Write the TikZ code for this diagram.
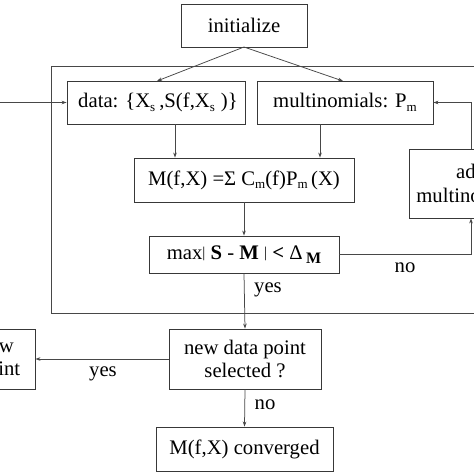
\documentclass[tikz,border=0pt]{standalone}
\usepackage{fontspec}
\setmainfont{Liberation Serif}
\usetikzlibrary{arrows.meta}
\newcommand{\mysub}[1]{\raisebox{-0.4ex}{\fontsize{13}{13}\selectfont #1}}
\newcommand{\bigsub}[1]{\raisebox{-0.45ex}{\fontsize{16}{16}\selectfont #1}}
\begin{document}
\begin{tikzpicture}[x=1pt,y=-1pt,
  box/.style={draw=black!78,line width=0.9pt,rectangle,inner sep=0pt,align=center,
    font=\fontsize{20.7}{23.5}\selectfont},
  conn/.style={draw=black!72,line width=0.75pt,-{Stealth[length=5pt,width=3.6pt]}},
  lbl/.style={font=\fontsize{20.7}{23.5}\selectfont,inner sep=0pt}]
\useasboundingbox (0,0) rectangle (474,474);
\clip (0,0) rectangle (474,474);
\fill[white] (0,0) rectangle (474,474);
% frame
\draw[draw=black!72,line width=0.8pt] (51,66) rectangle (490,313);
% nodes
\node[box,minimum width=126pt,minimum height=43pt] (init) at (244,25.5) {initialize};
\node[box,minimum width=178pt,minimum height=43pt] (data) at (156,102.5) {\hspace{4pt}data: \{X\mysub{s}\hspace{4pt},S(f,X\mysub{s}\hspace{6pt})\}};
\node[box,minimum width=176pt,minimum height=43pt] (multi) at (345,102.5) {multinomials: P\mysub{m}};
\node[box,minimum width=220pt,minimum height=44pt] (model) at (244,180) {M(f,X) =Σ C\mysub{m}(f)P\mysub{m}\,(X)};
\node[box,minimum width=190pt,minimum height=37pt] (maxn) at (244,254.5) {max\raisebox{0.2ex}{\fontsize{15}{15}\selectfont|} \textbf{S} - \textbf{M} \raisebox{0.2ex}{\fontsize{15}{15}\selectfont|} \textbf{<} Δ\,\bigsub{\textbf{M}}};
\node[box,minimum width=124pt,minimum height=69pt] (add) at (471,183.5) {add\\multinomials};
\node[box,minimum width=152pt,minimum height=60pt] (newdp) at (245,359) {new data point\\selected ?};
\node[box,minimum width=177pt,minimum height=44pt] (conv) at (244.5,449) {M(f,X) converged};
\node[box,minimum width=112pt,minimum height=60pt] (newpt) at (-21,359) {add new\\data point};
\coordinate (inL) at (0,102.5);
\coordinate (initS) at (244,47);
% connectors
\draw[conn] (initS) -- (157,81);
\draw[conn] (initS) -- (343,81);
\draw[conn] (inL) -- (data.west);
\draw[conn] (data.south -| 175,0) -- (model.north -| 175,0);
\draw[conn] (multi.south -| 320,0) -- (model.north -| 320,0);
\draw[conn] (model.south) -- (maxn.north);
\draw[conn] (maxn.east) -| (add.south);
\draw[conn] (add.north) |- (multi.east);
\draw[conn] (maxn.south) -- (newdp.north);
\draw[conn] (newdp.west) -- (newpt.east);
\draw[conn] (newdp.south) -- (conv.north);
% labels
\node[lbl] (l1) at (405,268) {no};
\node[lbl] (l2) at (268,290) {yes};
\node[lbl] (l3) at (103,374) {yes};
\node[lbl] (l4) at (265,405) {no};
\end{tikzpicture}
\end{document}
